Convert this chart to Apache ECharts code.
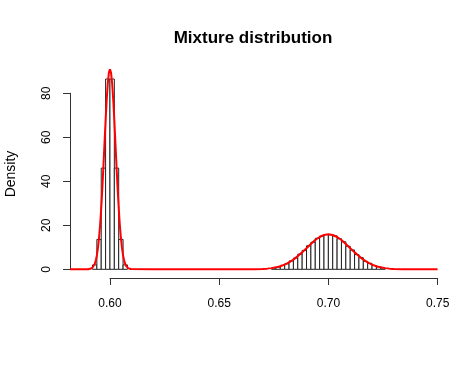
<!DOCTYPE html>
<html>
<head>
<meta charset="utf-8">
<script src="https://cdn.jsdelivr.net/npm/echarts@6/dist/echarts.min.js"></script>
<style>
  html, body { margin: 0; padding: 0; background: #fff; }
  #chart { width: 474px; height: 365px; }
</style>
</head>
<body>
<div id="chart"></div>
<script>
// histogram bins (bin width 0.002), left component
const leftBreaks = [0.592, 0.594, 0.596, 0.598, 0.600, 0.602, 0.604, 0.606, 0.608];
const leftDensity = [2, 13.6, 46, 86.5, 86.5, 46, 13.6, 2];

// right component
const rightBreaks = [0.674, 0.676, 0.678, 0.680, 0.682, 0.684, 0.686, 0.688, 0.690, 0.692,
  0.694, 0.696, 0.698, 0.700, 0.702, 0.704, 0.706, 0.708, 0.710, 0.712,
  0.714, 0.716, 0.718, 0.720, 0.722, 0.724, 0.726];
const rightDensity = [0.6, 1.0, 1.8, 2.5, 3.8, 5.1, 6.9, 8.6, 10.7, 12.3,
  14.1, 15.1, 15.8, 15.7, 15.2, 13.9, 12.5, 10.5, 8.8, 6.7,
  5.3, 3.6, 2.7, 1.7, 1.1, 0.6];

// red density curve
const curveX = [0.5817, 0.588,
  0.5900, 0.5905, 0.5910, 0.5915, 0.5920, 0.5925, 0.5930, 0.5935, 0.5940, 0.5945,
  0.5950, 0.5955, 0.5960, 0.5965, 0.5970, 0.5975, 0.5980, 0.5985, 0.5990, 0.5995,
  0.6000, 0.6005, 0.6010, 0.6015, 0.6020, 0.6025, 0.6030, 0.6035, 0.6040, 0.6045,
  0.6050, 0.6055, 0.6060, 0.6065, 0.6070, 0.6075, 0.6080, 0.6085, 0.6090, 0.6095,
  0.6100, 0.620, 0.660, 0.666, 0.670, 0.672, 0.674, 0.676, 0.678, 0.680,
  0.682, 0.684, 0.686, 0.688, 0.690, 0.692, 0.694, 0.696, 0.698, 0.700,
  0.702, 0.704, 0.706, 0.708, 0.710, 0.712, 0.714, 0.716, 0.718, 0.720,
  0.722, 0.724, 0.726, 0.728, 0.730, 0.734, 0.740, 0.750];
const curveY = [0, 0,
  0.06, 0.12, 0.23, 0.44, 0.80, 1.42, 2.43, 4.0, 6.35, 9.7,
  14.3, 20.3, 27.9, 36.8, 46.8, 57.3, 67.7, 77.1, 84.5, 89.3,
  91.0, 89.3, 84.5, 77.1, 67.7, 57.3, 46.8, 36.8, 27.9, 20.3,
  14.3, 9.7, 6.35, 4.0, 2.43, 1.42, 0.80, 0.44, 0.23, 0.12,
  0.06, 0, 0, 0.05, 0.18, 0.31, 0.54, 0.89, 1.41, 2.15,
  3.15, 4.4, 6.0, 7.7, 9.6, 11.5, 13.3, 14.7, 15.6, 15.9,
  15.6, 14.7, 13.3, 11.5, 9.6, 7.7, 6.0, 4.4, 3.15, 2.15,
  1.41, 0.89, 0.54, 0.31, 0.18, 0.05, 0, 0];

const xTicks = [0.60, 0.65, 0.70, 0.75];
const yTicks = [0, 20, 40, 60, 80];

const bins = [];
function addBins(breaks, dens) {
  for (let i = 0; i < dens.length; i++) bins.push([breaks[i], breaks[i + 1], dens[i]]);
}
addBins(leftBreaks, leftDensity);
addBins(rightBreaks, rightDensity);

const curve = curveX.map((x, i) => [x, curveY[i]]);

const font = 'Liberation Sans, Arial, sans-serif';
const axisCol = '#333';

const chart = echarts.init(document.getElementById('chart'));
chart.setOption({
  animation: false,
  backgroundColor: '#fff',
  textStyle: { fontFamily: font },
  title: {
    text: 'Mixture distribution',
    left: 248,
    top: 25,
    textAlign: 'center',
    textStyle: { fontSize: 17, fontWeight: 'bold', color: '#000', fontFamily: font }
  },
  grid: [
    { left: 70, right: 36, top: 70, bottom: 87, outerBoundsMode: 'none', containLabel: false },
    { left: 110, right: 36.3, top: 70, bottom: 87, outerBoundsMode: 'none', containLabel: false },
    { left: 70, right: 36, top: 93.3, bottom: 95.7, outerBoundsMode: 'none', containLabel: false }
  ],
  xAxis: [
    { gridIndex: 0, type: 'value', min: 0.5817, max: 0.7502, show: false },
    {
      gridIndex: 1, type: 'value', min: xTicks[0], max: xTicks[xTicks.length - 1], interval: 0.05,
      position: 'bottom',
      splitLine: { show: false },
      axisLine: { show: true, lineStyle: { color: axisCol, width: 1 } },
      axisTick: { show: true, inside: false, length: 7, lineStyle: { color: axisCol } },
      axisLabel: { fontSize: 12, color: '#000', margin: 20, formatter: v => v.toFixed(2) }
    },
    { gridIndex: 2, type: 'value', min: 0, max: 1, show: false }
  ],
  yAxis: [
    {
      gridIndex: 0, type: 'value', min: -3.95, max: 90.6,
      axisLine: { show: false }, axisTick: { show: false }, axisLabel: { show: false },
      splitLine: { show: false },
      name: 'Density', nameLocation: 'middle', nameRotate: 90, nameGap: 52,
      nameTextStyle: { fontSize: 14, color: '#000' }
    },
    { gridIndex: 1, type: 'value', min: 0, max: 1, show: false },
    {
      gridIndex: 2, type: 'value', min: yTicks[0], max: yTicks[yTicks.length - 1], interval: 20,
      splitLine: { show: false },
      axisLine: { show: true, lineStyle: { color: axisCol, width: 1 } },
      axisTick: { show: true, inside: false, length: 7, lineStyle: { color: axisCol } },
      axisLabel: { fontSize: 12, color: '#000', rotate: 90, margin: 17 }
    }
  ],
  series: [
    {
      type: 'custom',
      xAxisIndex: 0, yAxisIndex: 0,
      data: bins,
      renderItem: function (params, api) {
        const p0 = api.coord([api.value(0), 0]);
        const p1 = api.coord([api.value(1), api.value(2)]);
        return {
          type: 'rect',
          shape: { x: p0[0], y: p1[1], width: p1[0] - p0[0], height: p0[1] - p1[1] },
          style: { fill: '#fff', stroke: '#222', lineWidth: 1 }
        };
      }
    },
    {
      type: 'line',
      xAxisIndex: 0, yAxisIndex: 0,
      data: curve,
      showSymbol: false,
      clip: true,
      lineStyle: { color: '#ff0000', width: 2 }
    }
  ]
});
</script>
</body>
</html>
